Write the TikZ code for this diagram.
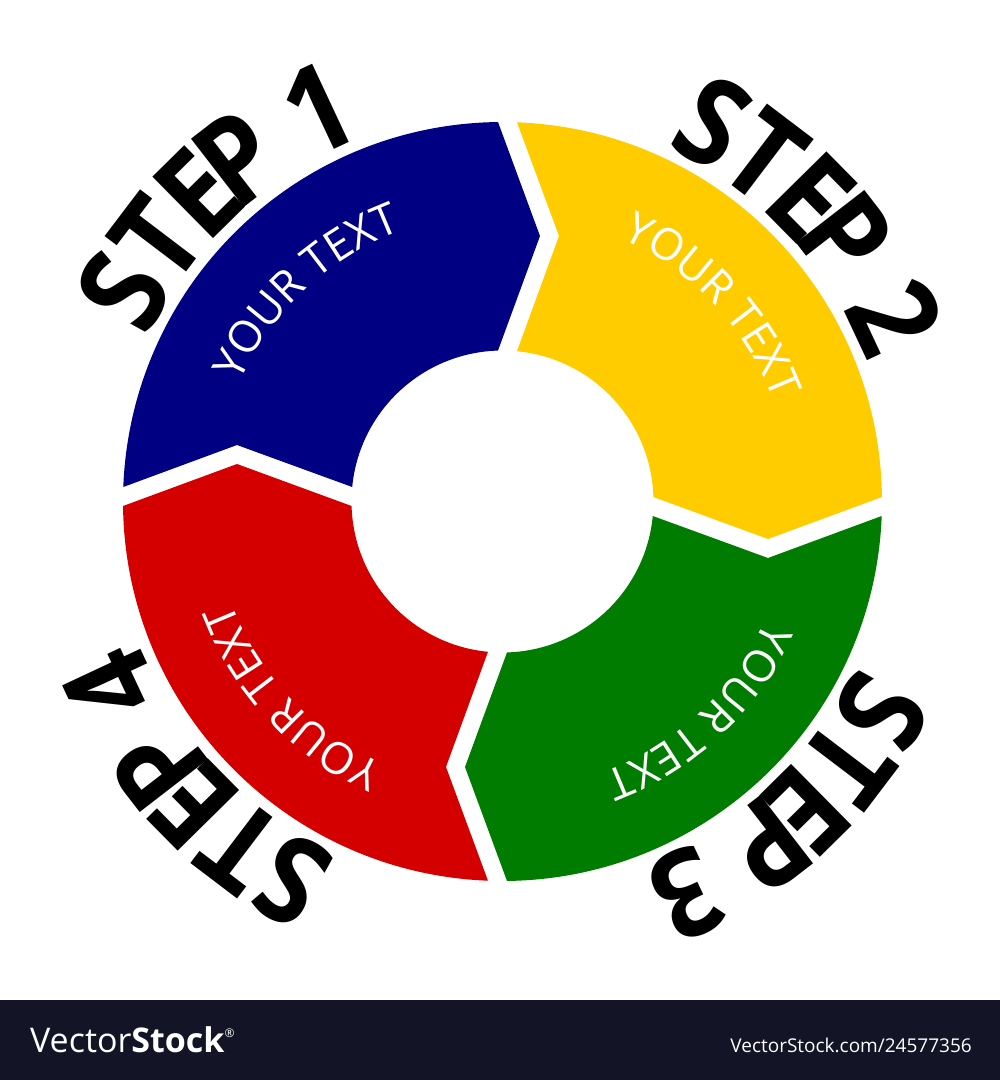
\documentclass[tikz,border=0pt]{standalone}
\usepackage{fontspec}
\usepackage{graphicx}
\setmainfont{Open Sans}
\usetikzlibrary{decorations.text}
\definecolor{cblue}{RGB}{0,0,130}
\definecolor{cyellow}{RGB}{255,204,0}
\definecolor{cgreen}{RGB}{0,125,0}
\definecolor{cred}{RGB}{212,0,0}
\definecolor{barbg}{RGB}{19,20,38}
\newcommand\stepfont{\fontsize{121}{121}\bfseries\selectfont}
\newcommand\yourfont{\fontsize{44}{44}\selectfont}
\newcommand\cond[1]{\scalebox{0.9}[1]{#1}}
\begin{document}
\begin{tikzpicture}[x=1pt,y=1pt,
  steplbl/.style={inner sep=0pt, anchor=base, font=\stepfont, text=black, transform shape},
  segfill/.style={fill=#1, draw=none},
  yourtext/.style={decorate, decoration={text along path, text align=center, text color=white, text={|\yourfont|YOUR TEXT}}}]
\useasboundingbox (-502.5,-578.5) rectangle (497.5,501.5);
\foreach \col/\num [count=\k from 0] in {cblue/1,cyellow/2,cgreen/3,cred/4} {
  \begin{scope}[rotate=-90*\k]
    \path[segfill=\col] (177.81:379.5) arc[start angle=177.81, end angle=90.68, radius=379.5]
      -- (37.5,265.5) -- (91.71:151) arc[start angle=91.71, end angle=174.49, radius=151]
      -- (-265.5,56.5) -- cycle;
    \path[yourtext] (163:289) arc[start angle=163, end angle=103, radius=289];
    \node[steplbl, rotate=61.0] (s\num) at (151.0:390) {\cond{S}};
    \node[steplbl, rotate=52.8] (t\num) at (142.8:390) {\cond{T}};
    \node[steplbl, rotate=44.6] (e\num) at (134.6:390) {\cond{E}};
    \node[steplbl, rotate=37.7] (p\num) at (127.7:390) {\cond{P}};
    \node[steplbl, rotate=25.1] (d\num) at (115.1:390) {\cond{\num}};
  \end{scope}
}
\fill[barbg] (-502.5,-498.5) rectangle (497.5,-578.5);
\node[anchor=base west, inner sep=0pt, text=white, font=\fontsize{34}{34}\selectfont] (vs) at (-472.5,-551) {Vector\textbf{Stock}\raisebox{15pt}{\fontsize{12}{12}\selectfont ®}};
\node[anchor=base east, inner sep=0pt, text=white, font=\fontsize{19}{19}\selectfont] (vsurl) at (469.5,-551) {VectorStock.com/24577356};
\end{tikzpicture}
\end{document}
